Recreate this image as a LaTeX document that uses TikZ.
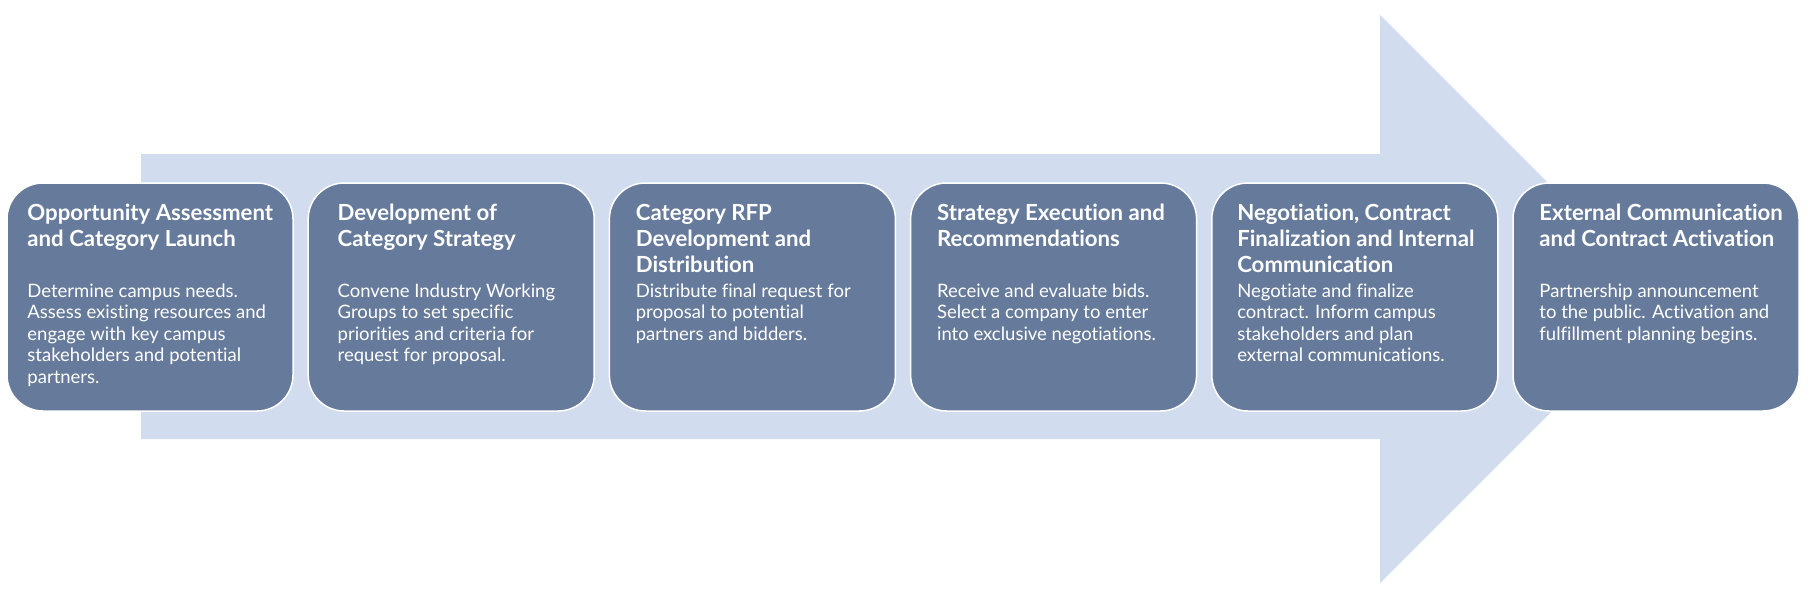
\documentclass[tikz,border=0pt]{standalone}
\usepackage{fontspec}
\setmainfont{Lato}[Ligatures=CommonOff]
\usetikzlibrary{calc}
\definecolor{arrowblue}{RGB}{209,221,238}
\definecolor{boxblue}{RGB}{102,123,155}
\newcommand\ttltext[1]{\vtop{\hsize=400pt\parindent=0pt\raggedright\fontsize{22.2}{26}\selectfont\bfseries #1\par}}
\newcommand\bdytext[1]{\vtop{\hsize=400pt\parindent=0pt\raggedright\fontsize{18.5}{21.5}\selectfont #1\par}}
\tikzset{
  stepbox/.style={draw=white, line width=1.5pt, fill=boxblue, rounded corners=36pt,
    minimum width=286pt, minimum height=228pt, inner sep=0pt},
  txt/.style={anchor=base west, inner sep=0pt, text=white},
}
\begin{document}
\begin{tikzpicture}[x=1pt,y=-1pt]
\useasboundingbox (0,0) rectangle (1814,610);
% big background arrow
\fill[arrowblue] (141,154) -- (1380,154) -- (1380,15) -- (1664,299) -- (1380,583) -- (1380,439) -- (141,439) -- cycle;
% boxes
\node[stepbox] (b1) at (150,297) {};
\node[stepbox] (b2) at (451.2,297) {};
\node[stepbox] (b3) at (752.4,297) {};
\node[stepbox] (b4) at (1053.6,297) {};
\node[stepbox] (b5) at (1354.8,297) {};
\node[stepbox] (b6) at (1656,297) {};
% titles
\node[txt] (t1) at ($(b1.north west)+(21,38)$) {\ttltext{Opportunity Assessment\\and Category Launch}};
\node[txt] (t2) at ($(b2.north west)+(30,38)$) {\ttltext{Development of\\Category Strategy}};
\node[txt] (t3) at ($(b3.north west)+(27,38)$) {\ttltext{Category RFP\\Development and\\Distribution}};
\node[txt] (t4) at ($(b4.north west)+(27,38)$) {\ttltext{Strategy Execution and\\Recommendations}};
\node[txt] (t5) at ($(b5.north west)+(26,38)$) {\ttltext{Negotiation, Contract\\Finalization and Internal\\Communication}};
\node[txt] (t6) at ($(b6.north west)+(27,38)$) {\ttltext{External Communication\\and Contract Activation}};
% bodies
\node[txt] (d1) at ($(b1.north west)+(21,115)$) {\bdytext{Determine campus needs.\\Assess existing resources and\\engage with key campus\\stakeholders and potential\\partners.}};
\node[txt] (d2) at ($(b2.north west)+(30,115)$) {\bdytext{Convene Industry Working\\Groups to set specific\\priorities and criteria for\\request for proposal.}};
\node[txt] (d3) at ($(b3.north west)+(27,115)$) {\bdytext{Distribute final request for\\proposal to potential\\partners and bidders.}};
\node[txt] (d4) at ($(b4.north west)+(27,115)$) {\bdytext{Receive and evaluate bids.\\Select a company to enter\\into exclusive negotiations.}};
\node[txt] (d5) at ($(b5.north west)+(26,115)$) {\bdytext{Negotiate and finalize\\contract. Inform campus\\stakeholders and plan\\external communications.}};
\node[txt] (d6) at ($(b6.north west)+(27,115)$) {\bdytext{Partnership announcement\\to the public. Activation and\\fulfillment planning begins.}};
\end{tikzpicture}
\end{document}
